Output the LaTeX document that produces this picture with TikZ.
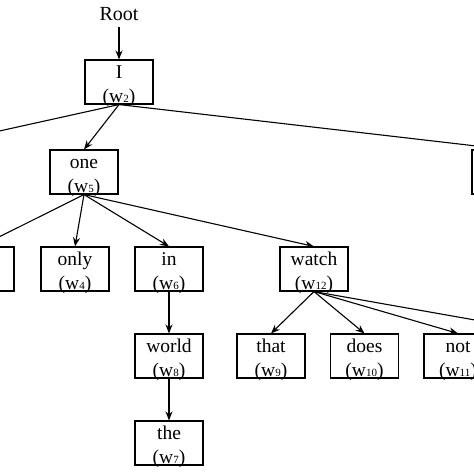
\documentclass[tikz,border=0pt]{standalone}
\usepackage{fontspec}
\setmainfont{Liberation Serif}
\usetikzlibrary{arrows.meta}
\tikzset{
  wbox/.style={draw, line width=1.1pt, minimum width=68pt, minimum height=44pt, inner sep=0pt},
  wtxt/.style={anchor=base, inner sep=0pt, font=\fontsize{19.5}{20}\selectfont},
  edge/.style={line width=1.1pt},
  arr/.style={edge, -{Stealth[length=9pt,width=7pt]}}
}
\newcommand\sm[1]{{\fontsize{11}{11}\selectfont #1}}
% \tbox{name}{center x}{top y}{word}{index}
\newcommand\tbox[5]{%
  \node[wbox] (#1) at (#2,#3+22) {};
  \node[wtxt] (#1-w) at (#2,#3+18) {#4};
  \node[wtxt] (#1-s) at (#2,#3+42) {(w\sm{#5})};
}
% box whose text lies outside the picture
\newcommand\ebox[3]{\node[wbox] (#1) at (#2,#3+22) {};}
\begin{document}
\begin{tikzpicture}[x=1pt,y=-1pt]
\useasboundingbox (0,0) rectangle (474,474);
\clip (0,0) rectangle (474,474);
\node[wtxt, font=\fontsize{20}{20}\selectfont] (root) at (119,20) {Root};
\coordinate (rootb) at (119,27);
\tbox{I}{119}{60}{I}{2}
\ebox{L2}{-84}{150}
\tbox{one}{84}{150}{one}{5}
\ebox{R2}{506}{150}
\ebox{L3}{-20}{247}
\tbox{only}{75}{247}{only}{4}
\tbox{in}{169}{247}{in}{6}
\tbox{watch}{314}{247}{watch}{12}
\tbox{world}{169}{334}{world}{8}
\tbox{that}{271}{334}{that}{9}
\tbox{does}{364.5}{334}{does}{10}
\tbox{not}{458}{334}{not}{11}
\ebox{R4}{551}{334}
\tbox{the}{169}{421}{the}{7}
\draw[arr] (rootb) -- (I.north);
\draw[arr] (I.south) -- (L2.north);
\draw[arr] (I.south) -- (one.north);
\draw[arr] (I.south) -- (R2.north);
\draw[arr] (one.south) -- (L3.north);
\draw[arr] (one.south) -- (only.north);
\draw[arr] (one.south) -- (in.north);
\draw[arr] (one.south) -- (watch.north);
\draw[arr] (in.south) -- (world.north);
\draw[arr] (world.south) -- (the.north);
\draw[arr] (watch.south) -- (that.north);
\draw[arr] (watch.south) -- (does.north);
\draw[arr] (watch.south) -- (not.north);
\draw[arr] (watch.south) -- (R4.north);
\end{tikzpicture}
\end{document}
